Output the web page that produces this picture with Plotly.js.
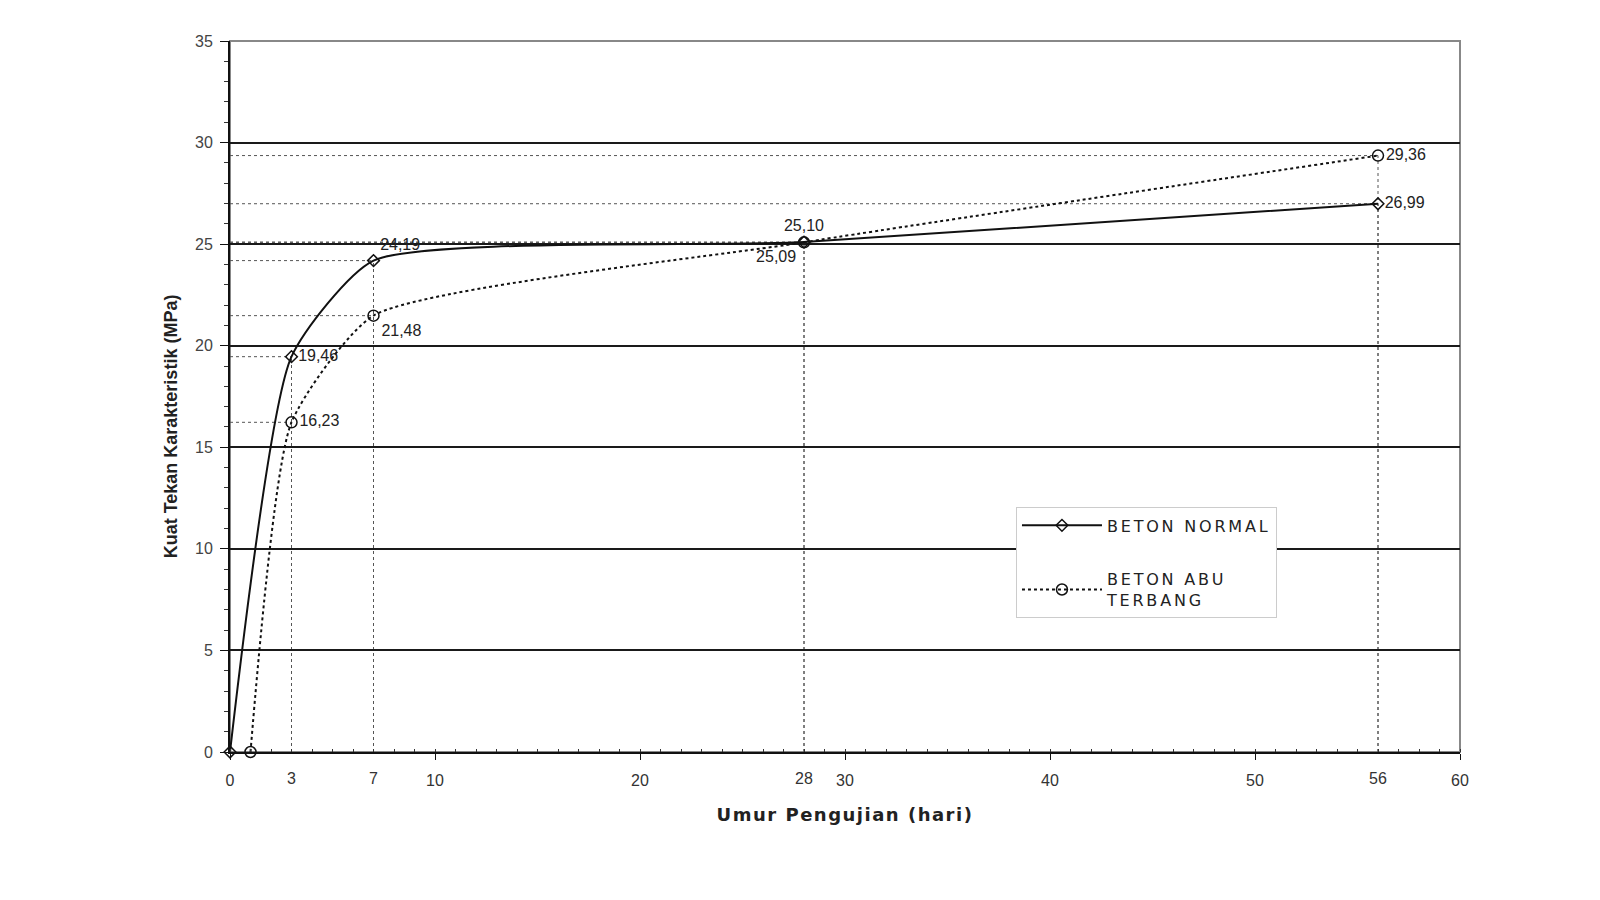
<!DOCTYPE html>
<html><head><meta charset="utf-8">
<script src="https://cdn.plot.ly/plotly-3.0.1.min.js"></script>
<style>
html,body{margin:0;padding:0;background:#fff}
#chart{width:1600px;height:900px}
.legendtext{letter-spacing:2.8px}
#chart .xtitle{letter-spacing:1.5px}
</style>
</head><body><div id="chart"></div>
<script>
// Data
const normalX = [0, 3, 7, 28, 56];
const normalY = [0, 19.46, 24.19, 25.10, 26.99];
const normalLabels = ['', '19,46', '24,19', '25,10', '26,99'];
const abuX = [1, 3, 7, 28, 56];
const abuY = [0, 16.23, 21.48, 25.09, 29.36];
const abuLabels = ['', '16,23', '21,48', '25,09', '29,36'];
const extraXTicks = [3, 7, 28, 56];
const xTickVals = [0, 10, 20, 30, 40, 50, 60];
const yTickVals = [0, 5, 10, 15, 20, 25, 30, 35];

const font = 'Liberation Sans, Arial, sans-serif';
const wideFont = 'DejaVu Sans, Liberation Sans, sans-serif';

const traces = [
  {
    x: normalX, y: normalY, name: 'BETON NORMAL', mode: 'lines+markers+text',
    legendgroup: 'a',
    line: {color: '#111', width: 2, shape: 'spline', smoothing: 0.55},
    marker: {symbol: 'diamond-open', size: 9, color: '#111', line: {width: 1.5}},
    text: normalLabels,
    textposition: ['middle right', 'middle right', 'top right', 'top center', 'middle right'],
    textfont: {family: font, size: 16, color: '#222'},
    cliponaxis: false
  },
  {
    x: abuX, y: abuY, name: 'BETON ABU<br>TERBANG', mode: 'lines+markers+text',
    legendgroup: 'b',
    line: {color: '#111', width: 2, dash: 'dot', shape: 'spline', smoothing: 0.55},
    marker: {symbol: 'circle-open', size: 11, color: '#111', line: {width: 1.5}},
    text: abuLabels,
    textposition: ['middle right', 'middle right', 'bottom right', 'bottom left', 'middle right'],
    textfont: {family: font, size: 16, color: '#222'},
    cliponaxis: false
  }
];

// reference dotted lines built from data
const shapes = [];
function addRefs(xs, ys) {
  for (let i = 0; i < xs.length; i++) {
    if (ys[i] === 0) continue;
    shapes.push({type: 'line', xref: 'x', yref: 'y', x0: xs[i], x1: xs[i], y0: 0, y1: ys[i],
      line: {color: '#555', width: 1, dash: 'dot'}, layer: 'below'});
    shapes.push({type: 'line', xref: 'x', yref: 'y', x0: 0, x1: xs[i], y0: ys[i], y1: ys[i],
      line: {color: '#555', width: 1, dash: 'dot'}, layer: 'below'});
  }
}
addRefs(normalX, normalY);
addRefs(abuX, abuY);

const annotations = extraXTicks.map(v => ({
  x: v, y: 0, xref: 'x', yref: 'y', text: String(v), showarrow: false,
  yshift: -26, font: {family: font, size: 16, color: '#333'}
}));
annotations.push({
  x: 0, y: 0.458, xref: 'paper', yref: 'paper', xanchor: 'center', yanchor: 'middle',
  xshift: -59, textangle: -90, showarrow: false,
  text: '<b>Kuat Tekan Karakteristik (MPa)</b>',
  font: {family: font, size: 18, color: '#222'}
});

const layout = {
  width: 1600, height: 900,
  margin: {l: 230, r: 140, t: 41, b: 148},
  paper_bgcolor: '#fff', plot_bgcolor: '#fff',
  showlegend: true,
  legend: {x: 0.639, y: 0.344, xanchor: 'left', yanchor: 'top',
    bgcolor: '#fff', bordercolor: '#ccc', borderwidth: 1,
    traceorder: 'grouped', tracegroupgap: 30, itemwidth: 80,
    font: {family: wideFont, size: 16, color: '#222'}},
  xaxis: {
    range: [0, 60], tickvals: xTickVals, ticks: 'outside', ticklen: 6, tickcolor: '#111',
    ticklabelstandoff: 7,
    showgrid: false, zeroline: false, showline: true, linecolor: '#111', linewidth: 2,
    tickfont: {family: font, size: 16, color: '#333'},
    minor: {dtick: 1, ticks: 'inside', ticklen: 3, tickcolor: '#333', showgrid: false},
    title: {text: '<b>Umur Pengujian (hari)</b>', font: {family: wideFont, size: 18, color: '#222'}, standoff: 20}
  },
  yaxis: {
    range: [0, 35], tickvals: yTickVals, ticks: 'outside', ticklen: 8, tickcolor: '#111',
    ticklabelstandoff: 4,
    showgrid: true, gridcolor: '#1a1a1a', gridwidth: 2, zeroline: false,
    showline: true, linecolor: '#111', linewidth: 2,
    tickfont: {family: font, size: 16, color: '#444'},
    minor: {dtick: 1, ticks: 'outside', ticklen: 4, tickcolor: '#333', showgrid: false}
  },
  shapes: shapes.concat([
    {type: 'rect', xref: 'paper', yref: 'paper', x0: 0, x1: 1, y0: 0, y1: 1,
     line: {color: '#888', width: 2}, layer: 'below'}
  ]),
  annotations: annotations
};

Plotly.newPlot('chart', traces, layout, {displayModeBar: false, staticPlot: true});
</script>
</body></html>
